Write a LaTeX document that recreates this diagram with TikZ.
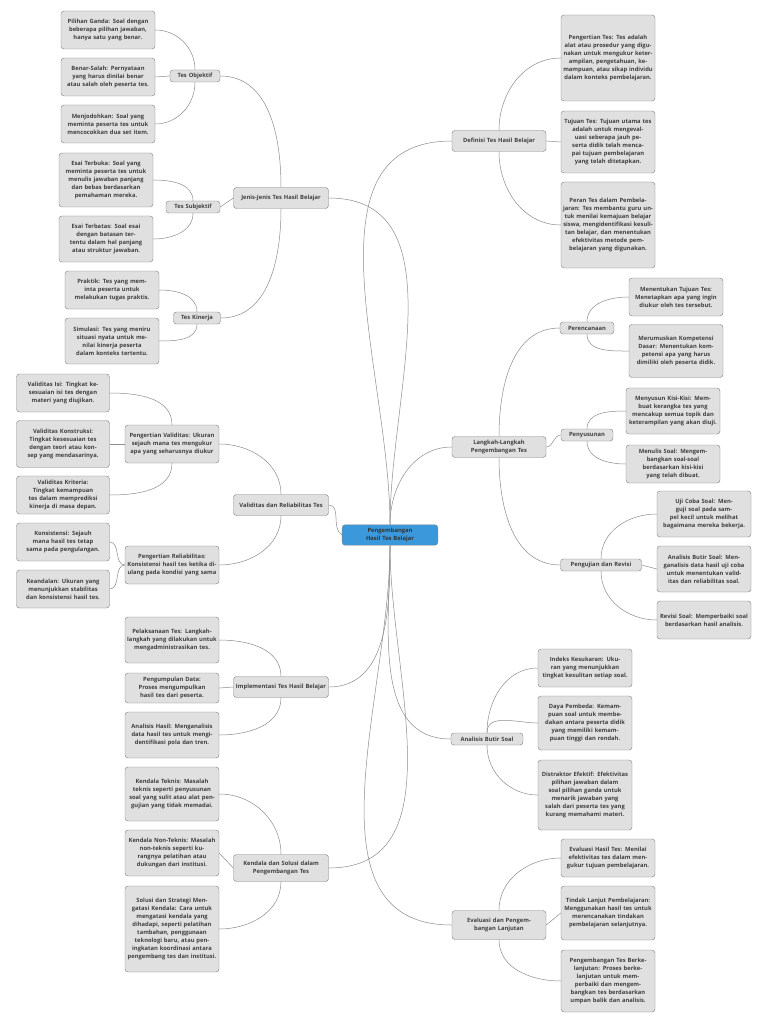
\documentclass[tikz,border=0pt]{standalone}
\usepackage{fontspec}
\setmainfont{Open Sans}
\begin{document}
\begin{tikzpicture}[x=1pt,y=-1pt,
  bx/.style={draw=black!50,fill=black!12,rounded corners=3pt,align=center,text=black!75,
    font=\bfseries\fontsize{5.8}{8}\selectfont,inner xsep=2pt,inner ysep=2pt,text width=#1},
  bx/.default=90pt,
  ctr/.style={draw=black!50,fill=cyan!70!blue!80,rounded corners=3pt,align=center,text=black!80,
    font=\bfseries\fontsize{5.8}{8}\selectfont,text width=89pt,minimum height=20pt},
  ln/.style={draw=black!45,line width=0.5pt}]
\useasboundingbox (0,0) rectangle (768,1024);
\fill[white] (0,0) rectangle (768,1024);
% center
\node[ctr] (c) at (390,535) {Pengembangan Hasil Tes Belajar};
% left mains
\node[bx=91pt,minimum height=21pt] (jen) at (281,198) {Jenis-Jenis Tes Hasil Belajar};
\node[bx=91pt,minimum height=21pt] (val) at (281,505) {Validitas dan Reliabilitas Tes};
\node[bx=91pt,minimum height=21pt] (imp) at (281,687) {Implementasi Tes Hasil Belajar};
\node[bx=91pt,minimum height=27pt] (ken) at (281,868) {Kendala dan Solusi dalam Pengembangan Tes};
% right mains
\node[bx=90pt,minimum height=21pt] (def) at (499,141) {Definisi Tes Hasil Belajar};
\node[bx=90pt,minimum height=21pt] (lan) at (499,447) {Langkah-Langkah Pengembangan Tes};
\node[bx=68pt,minimum height=12pt] (abs) at (487,739) {Analisis Butir Soal};
\node[bx=90pt,minimum height=29pt] (eva) at (499,925) {Evaluasi dan Pengembangan Lanjutan};
% left subs
\node[bx=46pt,minimum height=12pt] (tob) at (195,76) {Tes Objektif};
\node[bx=50pt,minimum height=12pt] (tsu) at (193,207) {Tes Subjektif};
\node[bx=43pt,minimum height=12pt] (tki) at (197,318) {Tes Kinerja};
\node[bx=90pt,minimum height=38pt] (pva) at (172,444) {Pengertian Validitas: Ukuran sejauh mana tes mengukur apa yang seharusnya diukur};
\node[bx=90pt,minimum height=38pt] (pre) at (172,565) {Pengertian Reliabilitas: Konsistensi hasil tes ketika diulang pada kondisi yang sama};
% leaves left
\node[bx,minimum height=38pt] (l1) at (108,30) {Pilihan Ganda: Soal dengan beberapa pilihan jawaban, hanya satu yang benar.};
\node[bx,minimum height=38pt] (l2) at (108,77) {Benar-Salah: Pernyataan yang harus dinilai benar atau salah oleh peserta tes.};
\node[bx,minimum height=38pt] (l3) at (108,124) {Menjodohkan: Soal yang meminta peserta tes untuk mencocokkan dua set item.};
\node[bx,minimum height=54pt] (l4) at (106,180) {Esai Terbuka: Soal yang meminta peserta tes untuk menulis jawaban panjang dan bebas berdasarkan pemahaman mereka.};
\node[bx,minimum height=46pt] (l5) at (106,239) {Esai Terbatas: Soal esai dengan batasan tertentu dalam hal panjang atau struktur jawaban.};
\node[bx,minimum height=38pt] (l6) at (112,290) {Praktik: Tes yang meminta peserta untuk melakukan tugas praktis.};
\node[bx,minimum height=46pt] (l7) at (112,341) {Simulasi: Tes yang meniru situasi nyata untuk menilai kinerja peserta dalam konteks tertentu.};
\node[bx=89pt,minimum height=38pt] (l8) at (63,393) {Validitas Isi: Tingkat kesesuaian isi tes dengan materi yang diujikan.};
\node[bx=89pt,minimum height=47pt] (l9) at (63,444) {Validitas Konstruksi: Tingkat kesesuaian tes dengan teori atau konsep yang mendasarinya.};
\node[bx=89pt,minimum height=38pt] (l10) at (63,495) {Validitas Kriteria: Tingkat kemampuan tes dalam memprediksi kinerja di masa depan.};
\node[bx=89pt,minimum height=38pt] (l11) at (63,542) {Konsistensi: Sejauh mana hasil tes tetap sama pada pengulangan.};
\node[bx=89pt,minimum height=38pt] (l12) at (63,589) {Keandalan: Ukuran yang menunjukkan stabilitas dan konsistensi hasil tes.};
\node[bx,minimum height=46pt] (l13) at (172,640) {Pelaksanaan Tes: Langkah-langkah yang dilakukan untuk mengadministrasikan tes.};
\node[bx,minimum height=30pt] (l14) at (172,688) {Pengumpulan Data: Proses mengumpulkan hasil tes dari peserta.};
\node[bx,minimum height=46pt] (l15) at (172,735) {Analisis Hasil: Menganalisis data hasil tes untuk mengidentifikasi pola dan tren.};
\node[bx,minimum height=54pt] (l16) at (172,794) {Kendala Teknis: Masalah teknis seperti penyusunan soal yang sulit atau alat pengujian yang tidak memadai.};
\node[bx,minimum height=46pt] (l17) at (172,853) {Kendala Non-Teknis: Masalah non-teknis seperti kurangnya pelatihan atau dukungan dari institusi.};
\node[bx,minimum height=86pt] (l18) at (172,929) {Solusi dan Strategi Mengatasi Kendala: Cara untuk mengatasi kendala yang dihadapi, seperti pelatihan tambahan, penggunaan teknologi baru, atau peningkatan koordinasi antara pengembang tes dan institusi.};
% right subs
\node[bx=50pt,minimum height=12pt] (per) at (587,328) {Perencanaan};
\node[bx=48pt,minimum height=12pt] (pen) at (587,435) {Penyusunan};
\node[bx=77pt,minimum height=12pt] (pdr) at (601,565) {Pengujian dan Revisi};
% right leaves
\node[bx,minimum height=86pt] (r1) at (608,58) {Pengertian Tes: Tes adalah alat atau prosedur yang digunakan untuk mengukur keterampilan, pengetahuan, kemampuan, atau sikap individu dalam konteks pembelajaran.};
\node[bx,minimum height=62pt] (r2) at (608,142) {Tujuan Tes: Tujuan utama tes adalah untuk mengevaluasi seberapa jauh peserta didik telah mencapai tujuan pembelajaran yang telah ditetapkan.};
\node[bx,minimum height=86pt] (r3) at (608,225) {Peran Tes dalam Pembelajaran: Tes membantu guru untuk menilai kemajuan belajar siswa, mengidentifikasi kesulitan belajar, dan menentukan efektivitas metode pembelajaran yang digunakan.};
\node[bx,minimum height=38pt] (r4) at (676,297) {Menentukan Tujuan Tes: Menetapkan apa yang ingin diukur oleh tes tersebut.};
\node[bx,minimum height=53pt] (r5) at (676,351) {Merumuskan Kompetensi Dasar: Menentukan kompetensi apa yang harus dimiliki oleh peserta didik.};
\node[bx,minimum height=46pt] (r6) at (673,411) {Menyusun Kisi-Kisi: Membuat kerangka tes yang mencakup semua topik dan keterampilan yang akan diuji.};
\node[bx,minimum height=38pt] (r7) at (673,464) {Menulis Soal: Mengembangkan soal-soal berdasarkan kisi-kisi yang telah dibuat.};
\node[bx,minimum height=46pt] (r8) at (704,514) {Uji Coba Soal: Menguji soal pada sampel kecil untuk melihat bagaimana mereka bekerja.};
\node[bx,minimum height=46pt] (r9) at (704,569) {Analisis Butir Soal: Menganalisis data hasil uji coba untuk menentukan validitas dan reliabilitas soal.};
\node[bx,minimum height=38pt] (r10) at (704,620) {Revisi Soal: Memperbaiki soal berdasarkan hasil analisis.};
\node[bx,minimum height=38pt] (r11) at (585,668) {Indeks Kesukaran: Ukuran yang menunjukkan tingkat kesulitan setiap soal.};
\node[bx,minimum height=54pt] (r12) at (585,723) {Daya Pembeda: Kemampuan soal untuk membedakan antara peserta didik yang memiliki kemampuan tinggi dan rendah.};
\node[bx,minimum height=70pt] (r13) at (585,795) {Distraktor Efektif: Efektivitas pilihan jawaban dalam soal pilihan ganda untuk menarik jawaban yang salah dari peserta tes yang kurang memahami materi.};
\node[bx,minimum height=38pt] (r14) at (608,858) {Evaluasi Hasil Tes: Menilai efektivitas tes dalam mengukur tujuan pembelajaran.};
\node[bx,minimum height=54pt] (r15) at (608,913) {Tindak Lanjut Pembelajaran: Menggunakan hasil tes untuk merencanakan tindakan pembelajaran selanjutnya.};
\node[bx,minimum height=62pt] (r16) at (608,981) {Pengembangan Tes Berkelanjutan: Proses berkelanjutan untuk memperbaiki dan mengembangkan tes berdasarkan umpan balik dan analisis.};
% connectors center
\begin{scope}[ln]
\draw (c.north) to[out=90,in=0] (jen.east);
\draw (c.west) to[out=150,in=0] (val.east);
\draw (c.south) to[out=-90,in=0] (imp.east);
\draw (c.south) to[out=-90,in=0] (ken.east);
\draw (c.north) to[out=90,in=180] (def.west);
\draw (c.north) to[out=90,in=180] (lan.west);
\draw (c.south) to[out=-90,in=180] (abs.west);
\draw (c.south) to[out=-90,in=180] (eva.west);
% left
\draw (tob.east) to[out=0,in=90] (jen.north);
\draw (tsu.east) -- (jen.west);
\draw (tki.east) to[out=0,in=-90] (jen.south);
\draw (pva.east) to[out=0,in=90] (val.north);
\draw (pre.east) to[out=0,in=-90] (val.south);
\draw (l13.east) to[out=0,in=90] (imp.north);
\draw (l14.east) -- (imp.west);
\draw (l15.east) to[out=0,in=-90] (imp.south);
\draw (l16.east) to[out=0,in=90] (ken.north);
\draw (l17.east) -- (ken.west);
\draw (l18.east) to[out=0,in=-90] (ken.south);
\draw (l1.east) to[out=0,in=90] (tob.north);
\draw (l2.east) -- (tob.west);
\draw (l3.east) to[out=0,in=-90] (tob.south);
\draw (l4.east) to[out=0,in=90] (tsu.north);
\draw (l5.east) to[out=0,in=-90] (tsu.south);
\draw (l6.east) to[out=0,in=90] (tki.north);
\draw (l7.east) to[out=0,in=-90] (tki.south);
\draw (l8.east) to[out=0,in=90] (pva.north);
\draw (l9.east) -- (pva.west);
\draw (l10.east) to[out=0,in=-90] (pva.south);
\draw (l11.east) to[out=0,in=180] (pre.west);
\draw (l12.east) to[out=0,in=180] (pre.west);
% right
\draw (def.north) to[out=90,in=180] (r1.west);
\draw (def.east) -- (r2.west);
\draw (def.south) to[out=-90,in=180] (r3.west);
\draw (lan.north) to[out=90,in=180] (per.west);
\draw (lan.east) to[out=0,in=180] (pen.west);
\draw (lan.south) to[out=-90,in=180] (pdr.west);
\draw (per.north) to[out=90,in=180] (r4.west);
\draw (per.south) to[out=-90,in=180] (r5.west);
\draw (pen.north) to[out=90,in=180] (r6.west);
\draw (pen.south) to[out=-90,in=180] (r7.west);
\draw (pdr.north) to[out=90,in=180] (r8.west);
\draw (pdr.east) -- (r9.west);
\draw (pdr.south) to[out=-90,in=180] (r10.west);
\draw (abs.north) to[out=90,in=180] (r11.west);
\draw (abs.north) to[out=90,in=180] (r12.west);
\draw (abs.south) to[out=-90,in=180] (r13.west);
\draw (eva.north) to[out=90,in=180] (r14.west);
\draw (eva.east) -- (r15.west);
\draw (eva.south) to[out=-90,in=180] (r16.west);
\end{scope}
\end{tikzpicture}
\end{document}
